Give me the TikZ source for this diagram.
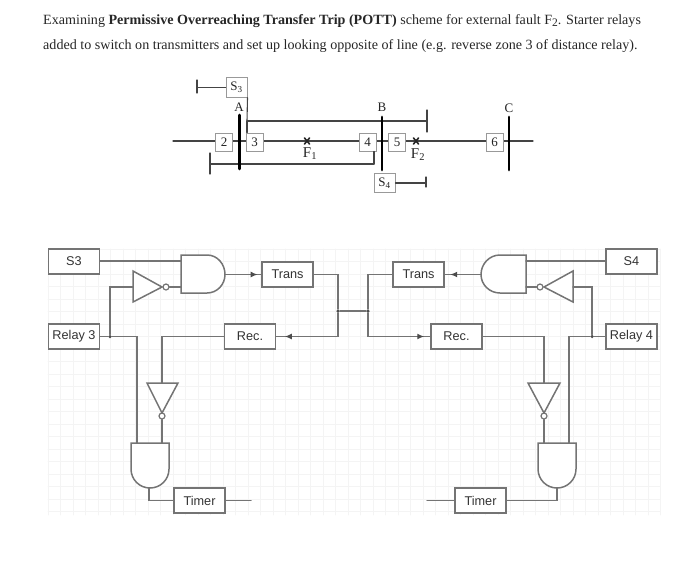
\documentclass[tikz,border=0pt]{standalone}
\usepackage{fontspec}
\setmainfont{Liberation Serif}
\setsansfont{Liberation Sans}
\usetikzlibrary{arrows.meta}
\usetikzlibrary{calc}
\usetikzlibrary{decorations.markings}

\definecolor{wire}{HTML}{747474}
\definecolor{gridline}{HTML}{F4F4F4}
\definecolor{oneline}{HTML}{444444}

\tikzset{%
    relay/.style = {draw = wire, line width = 1.5pt, fill = white, inner sep = 0pt,
        minimum width = 51pt, minimum height = 25pt, text = black!80,
        font = \sffamily\fontsize{12.7}{13}\selectfont},
    device/.style = {draw = black!40, line width = 1pt, fill = white, inner sep = 0pt,
        minimum width = 17pt, minimum height = 18pt, text = black!85,
        font = \fontsize{13}{14}\selectfont},
    starter/.style = {device, minimum width = 21pt, minimum height = 19.5pt},
    busname/.style = {text = black!85, font = \fontsize{13}{14}\selectfont},
    para/.style = {anchor = base west, inner sep = 0pt, text = black!85,
        font = \fontsize{14.1}{16}\selectfont},
    bubble/.style = {circle, draw = wire, line width = 1.2pt, fill = white,
        inner sep = 0pt, minimum size = 6pt},
    junction/.style = {circle, fill = black!70, inner sep = 0pt, minimum size = 3.5pt},
    busbar/.style = {line width = 2.8pt, draw = black},
    feeder/.style = {line width = 1.1pt, draw = oneline},
    fault/.style = {line width = 1.6pt, draw = black!85},
    wired/.style = {line width = 1.5pt, draw = wire},
    flow/.style = {wired, postaction = {decorate}, decoration = {markings,
        mark = at position #1 with {\arrow{Latex[length = 7pt, width = 6pt, black!70]}}}}
}

\begin{document}
\begin{tikzpicture}[%
        x = 1pt,
        y = -1pt,
        > = Latex,
        line cap = round
    ]

        \useasboundingbox (0, 0) rectangle (700, 568);

        % Faint squared paper behind the logic.
        \foreach \gx in {0, 1, ..., 49}
            \draw[gridline, line width = 0.6pt] (48 + 12.5*\gx, 249) to (48 + 12.5*\gx, 515);
        \foreach \gy in {0, 1, ..., 21}
            \draw[gridline, line width = 0.6pt] (48, 249 + 12.5*\gy) to (660, 249 + 12.5*\gy);

        % Text above the figure.
        \node[para] (L1) at (43, 24) {Examining \textbf{Permissive Overreaching Transfer Trip (POTT)} scheme for external fault F\raisebox{-0.35ex}{\fontsize{11.5}{12}\selectfont 2}. Starter relays};
        \node[para] (L2) at (43, 49) {added to switch on transmitters and set up looking opposite of line (e.g. reverse zone 3 of distance relay).};

        % One-line diagram: points on the lines.
        \coordinate (W) at (173, 141);
        \coordinate (E) at (533, 141);
        \coordinate (A1) at (239.5, 115);
        \coordinate (A2) at (239.5, 169);
        \coordinate (B1) at (382, 117);
        \coordinate (B2) at (382, 170);
        \coordinate (C1) at (509, 117);
        \coordinate (C2) at (509, 170);
        \coordinate (Z3) at (427, 121);
        \coordinate (Z3a) at (427, 110);
        \coordinate (Z3b) at (427, 132);
        \coordinate (Z3c) at (247, 121);
        \coordinate (Z4) at (210, 164);
        \coordinate (Z4a) at (210, 153);
        \coordinate (Z4b) at (210, 174);
        \coordinate (Z4c) at (374, 164);
        \coordinate (T3) at (197, 87.5);
        \coordinate (T3a) at (197, 80);
        \coordinate (T3b) at (197, 93);
        \coordinate (T4) at (426, 183);
        \coordinate (T4a) at (426, 177);
        \coordinate (T4b) at (426, 187);
        \coordinate (X1) at (307, 141);
        \coordinate (X2) at (416, 141);

        \draw[feeder] (W) to (E);
        \draw[feeder] (Z3c) to (Z3);
        \draw[feeder] (Z3a) to (Z3b);
        \draw[feeder] (Z4) to (Z4c);
        \draw[feeder] (Z4a) to (Z4b);
        \draw[feeder] (T3a) to (T3b);
        \draw[feeder] (T4a) to (T4b);

        \draw[busbar] (A1) to (A2);
        \draw[busbar] (B1) to (B2);
        \draw[busbar] (C1) to (C2);

        \node[device] (D2) at (224, 142) {2};
        \node[device] (D3) at (254.5, 142) {3};
        \node[device] (D4) at (367.5, 142) {4};
        \node[device] (D5) at (397, 142) {5};
        \node[device] (D6) at (494.5, 142) {6};
        \node[starter] (SS3) at (236.5, 87.5) {S\textsubscript{3}};
        \node[starter] (SS4) at (384.5, 183) {S\textsubscript{4}};

        \draw[feeder] (SS3) to (T3);
        \draw[feeder] (SS4) to (T4);
        \draw[feeder] (SS3.south east) to (Z3c);
        \draw[feeder] (Z3c) to (D3.north -| Z3c);
        \draw[feeder] (D4.south -| Z4c) to (Z4c);

        \node[busname] (NA) at (239, 107) {A};
        \node[busname] (NB) at (382, 107) {B};
        \node[busname] (NC) at (509, 108) {C};

        % Fault marks.
        \draw[fault] ($(X1) + (-2.5, -3)$) to ($(X1) + (2.5, 3)$);
        \draw[fault] ($(X1) + (2.5, -3)$) to ($(X1) + (-2.5, 3)$);
        \draw[fault] ($(X2) + (-2.5, -3)$) to ($(X2) + (2.5, 3)$);
        \draw[fault] ($(X2) + (2.5, -3)$) to ($(X2) + (-2.5, 3)$);
        \node[busname, font = \fontsize{15}{16}\selectfont] (NF1) at (310, 153.5) {F\textsubscript{1}};
        \node[busname, font = \fontsize{15}{16}\selectfont] (NF2) at (418, 154.5) {F\textsubscript{2}};

        % Boxes of the two logic schemes.
        \node[relay] (S3) at (74, 261.5) {S3};
        \node[relay] (R3) at (74, 336.5) {Relay 3};
        \node[relay] (Tr3) at (287.5, 274.5) {Trans};
        \node[relay] (Rc3) at (250, 336.5) {Rec.};
        \node[relay] (Ti3) at (199.5, 500.5) {Timer};
        \node[relay] (S4) at (631.5, 261.5) {S4};
        \node[relay] (R4) at (631.5, 336.5) {Relay 4};
        \node[relay] (Tr4) at (418.5, 274.5) {Trans};
        \node[relay] (Rc4) at (456.5, 336.5) {Rec.};
        \node[relay] (Ti4) at (480.5, 500.5) {Timer};

        % Junctions in the wiring.
        \node[junction] (J3) at (110, 336.5) {};
        \node[junction] (J4) at (592, 336.5) {};
        \node[junction] (JL) at (338, 311) {};
        \node[junction] (JR) at (368, 311) {};

        % Gates of the left scheme.
        \draw[wired, fill = white]
            (181, 255) to (207, 255) to [out = 0, in = 90]
            (225, 274.5) to [out = -90, in = 0]
            (207, 293) to (181, 293) to cycle;
        \draw[wired, fill = white]
            (131, 443) to (169, 443) to (169, 469) to [out = -90, in = 0]
            (150, 488) to [out = 180, in = -90]
            (131, 469) to cycle;
        \draw[wired, fill = white] (133, 271) to (162, 287) to (133, 302) to cycle;
        \draw[wired, fill = white] (147, 383) to (178, 383) to (162, 413) to cycle;
        \node[bubble] (N3a) at (166, 287) {};
        \node[bubble] (N3b) at (162, 416) {};

        % Gates of the right scheme.
        \draw[wired, fill = white]
            (526, 255) to (500, 255) to [out = 180, in = 90]
            (481, 274.5) to [out = -90, in = 180]
            (500, 293) to (526, 293) to cycle;
        \draw[wired, fill = white]
            (538, 443) to (576, 443) to (576, 469) to [out = -90, in = 0]
            (557, 488) to [out = 180, in = -90]
            (538, 469) to cycle;
        \draw[wired, fill = white] (573, 271) to (544, 287) to (573, 302) to cycle;
        \draw[wired, fill = white] (528, 383) to (560, 383) to (544, 413) to cycle;
        \node[bubble] (N4a) at (540, 287) {};
        \node[bubble] (N4b) at (544, 416) {};

        % Ends of the wires at the gates.
        \coordinate (G3in) at (181, 261);
        \coordinate (G3nb) at (181, 287);
        \coordinate (G3out) at (225, 274.5);
        \coordinate (H3a) at (137, 443);
        \coordinate (H3b) at (162, 443);
        \coordinate (H3out) at (149, 488);
        \coordinate (I3a) at (133, 287);
        \coordinate (I3b) at (162, 383);
        \coordinate (Q3) at (251, 500.5);
        \coordinate (G4in) at (526, 261);
        \coordinate (G4nb) at (526, 287);
        \coordinate (G4out) at (481, 274.5);
        \coordinate (H4a) at (569, 443);
        \coordinate (H4b) at (544, 443);
        \coordinate (H4out) at (557, 488);
        \coordinate (I4a) at (573, 287);
        \coordinate (I4b) at (544, 383);
        \coordinate (Q4) at (427, 500.5);

        % Wiring of the left scheme.
        \draw[wired] (S3.east |- G3in) to (G3in);
        \draw[wired] (N3a) to (G3nb);
        \draw[flow = 0.9] (G3out) to (Tr3);
        \draw[wired] (J3) |- (I3a);
        \draw[wired] (R3) to (J3);
        \draw[wired] (J3) -| (H3a);
        \draw[wired] (Rc3) -| (I3b);
        \draw[wired] (N3b) to (H3b);
        \draw[wired] (H3out) |- (Ti3);
        \draw[wired] (Ti3) to (Q3);
        \draw[wired] (Tr3) -| (JL);
        \draw[flow = 0.9] (JL) |- (Rc3);

        % Link between the schemes.
        \draw[wired] (JL) to (JR);

        % Wiring of the right scheme.
        \draw[wired] (S4.west |- G4in) to (G4in);
        \draw[wired] (N4a) to (G4nb);
        \draw[flow = 0.85] (G4out) to (Tr4);
        \draw[wired] (J4) |- (I4a);
        \draw[wired] (R4) to (J4);
        \draw[wired] (J4) -| (H4a);
        \draw[wired] (Rc4) -| (I4b);
        \draw[wired] (N4b) to (H4b);
        \draw[wired] (H4out) |- (Ti4);
        \draw[wired] (Ti4) to (Q4);
        \draw[wired] (JR) |- (Tr4);
        \draw[flow = 0.93] (JR) |- (Rc4);
    \end{tikzpicture}
\end{document}
